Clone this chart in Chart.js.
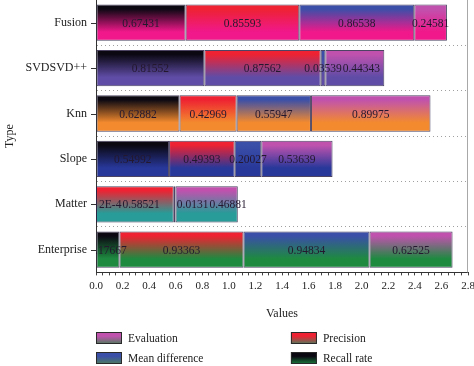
<!DOCTYPE html>
<html>
<head>
<meta charset="utf-8">
<script src="https://cdn.jsdelivr.net/npm/chart.js@4"></script>
<style>
html, body { margin: 0; padding: 0; background: #fff; }
#wrap { width: 474px; height: 366px; position: relative; }
</style>
</head>
<body>
<div id="wrap"><canvas id="chart"></canvas></div>
<script>
// data
const categories = ['Fusion', 'SVDSVD++', 'Knn', 'Slope', 'Matter', 'Enterprise'];
const recallRate = [0.67431, 0.81552, 0.62882, 0.54992, 0.0002, 0.17667];
const precision = [0.85593, 0.87562, 0.42969, 0.49393, 0.58521, 0.93363];
const meanDifference = [0.86538, 0.03539, 0.55947, 0.20027, 0.0131, 0.94834];
const evaluation = [0.24581, 0.44343, 0.89975, 0.53639, 0.46881, 0.62525];
const seriesNames = ['Recall rate', 'Precision', 'Mean difference', 'Evaluation'];
const xMin = 0, xMax = 2.8, xStep = 0.05, labelEvery = 4;

// colours: top of each bar comes from the series, bottom from the row
const seriesTop = ['#0b0812', '#ee2232', '#3b4fa8', '#c052ae'];
const rowBottom = ['#f0188a', '#5f4ca6', '#f38a2e', '#28389a', '#279c98', '#1e8a40'];
const swatchBottom = ['#1c7a3c', '#4f7c5c', '#4f7c5c', '#4f7c5c'];
const FONT = '"Liberation Serif", "Times New Roman", serif';
const BAR_RATIO = 0.8;

function barFill(c) {
  const ya = c.chart.scales.y;
  if (!ya || c.type !== 'data') return seriesTop[c.datasetIndex];
  const yc = ya.getPixelForValue(c.dataIndex);
  const h = ya.height / categories.length * BAR_RATIO;
  if (!Number.isFinite(yc) || !Number.isFinite(h) || h <= 0) return seriesTop[c.datasetIndex];
  const g = c.chart.ctx.createLinearGradient(0, yc - h / 2, 0, yc + h / 2);
  g.addColorStop(0, seriesTop[c.datasetIndex]);
  g.addColorStop(0.12, seriesTop[c.datasetIndex]);
  g.addColorStop(0.75, rowBottom[c.dataIndex]);
  g.addColorStop(1, rowBottom[c.dataIndex]);
  return g;
}

function fmt(v) {
  return v < 0.001 ? v.toExponential(0).toUpperCase() : String(v);
}

/*segment labels*/
const valueLabels = {
  id: 'valueLabels',
  afterDatasetsDraw(chart) {
    const ctx = chart.ctx, a = chart.chartArea;
    ctx.save();
    ctx.beginPath();
    ctx.rect(a.left, a.top, a.right - a.left, a.bottom - a.top);
    ctx.clip();
    ctx.font = '11.5px ' + FONT;
    ctx.fillStyle = '#24182f';
    ctx.textBaseline = 'middle';
    ctx.textAlign = 'left';
    categories.forEach((cat, i) => {
      let prevRight = -Infinity;
      chart.data.datasets.forEach((ds, d) => {
        const bar = chart.getDatasetMeta(d).data[i];
        const txt = fmt(ds.data[i]);
        const w = ctx.measureText(txt).width;
        const x0 = Math.min(bar.x, bar.base), x1 = Math.max(bar.x, bar.base);
        let left = (x1 - x0) < 3 ? x0 + 3 : (x0 + x1) / 2 - w / 2;
        if (left < prevRight + 1) left = prevRight + 1;
        ctx.fillText(txt, left, bar.y + 1);
        prevRight = left + w;
      });
    });
    ctx.restore();
  }
};

/*frame, y ticks, legend*/
const extras = {
  id: 'extras',
  afterDraw(chart) {
    const ctx = chart.ctx, a = chart.chartArea, ya = chart.scales.y;
    ctx.save();
    // right frame
    ctx.strokeStyle = '#a8a8a8';
    ctx.lineWidth = 1;
    ctx.beginPath();
    ctx.moveTo(a.right - 0.5, a.top);
    ctx.lineTo(a.right - 0.5, a.bottom);
    ctx.stroke();
    // y tick marks at category centres
    ctx.strokeStyle = '#333';
    categories.forEach((c, i) => {
      const y = Math.round(ya.getPixelForValue(i)) + 0.5;
      ctx.beginPath();
      ctx.moveTo(a.left - 5, y);
      ctx.lineTo(a.left, y);
      ctx.stroke();
    });
    // legend, two columns, reversed order
    const order = [3, 1, 2, 0];
    const colX = [a.left, a.left + (a.right - a.left) * 0.524];
    const rowY = [338, 358];
    ctx.font = '11.5px ' + FONT;
    ctx.textBaseline = 'middle';
    order.forEach((d, k) => {
      const x = colX[k % 2], y = rowY[Math.floor(k / 2)];
      const g = ctx.createLinearGradient(0, y - 6, 0, y + 6);
      g.addColorStop(0, seriesTop[d]);
      g.addColorStop(0.35, seriesTop[d]);
      g.addColorStop(1, swatchBottom[d]);
      ctx.fillStyle = g;
      ctx.fillRect(x, y - 6, 26, 12);
      ctx.strokeStyle = '#2a2a2a';
      ctx.strokeRect(x + 0.5, y - 5.5, 25, 11);
      ctx.fillStyle = '#222';
      ctx.fillText(seriesNames[d], x + 32, y + 1);
    });
    ctx.restore();
  }
};

const allSeries = [recallRate, precision, meanDifference, evaluation];

new Chart(document.getElementById('chart'), {
  type: 'bar',
  data: {
    labels: categories,
    datasets: allSeries.map((vals, d) => ({
      label: seriesNames[d],
      data: vals,
      backgroundColor: barFill,
      borderColor: 'rgba(45,35,70,0.85)',
      borderWidth: 1,
      borderSkipped: false,
      categoryPercentage: 1,
      barPercentage: BAR_RATIO
    }))
  },
  options: {
    indexAxis: 'y',
    responsive: true,
    maintainAspectRatio: false,
    animation: false,
    events: [],
    layout: { padding: { top: 0, left: 0, right: 6, bottom: 45 } },
    plugins: {
      legend: { display: false },
      tooltip: { enabled: false }
    },
    scales: {
      x: {
        stacked: true,
        min: xMin,
        max: xMax,
        border: { color: '#333' },
        grid: { drawOnChartArea: false, tickLength: 3, color: '#444' },
        ticks: {
          stepSize: xStep,
          autoSkip: false,
          maxRotation: 0,
          padding: 4,
          color: '#222',
          font: { family: FONT, size: 11 },
          callback: (v, i) => i % labelEvery === 0 ? Number(v).toFixed(1) : ''
        },
        title: {
          display: true,
          text: 'Values',
          color: '#222',
          font: { family: FONT, size: 12 },
          padding: { top: 10, bottom: 0 }
        },
        afterFit: (s) => { s.paddingLeft = 0; s.paddingRight = 0; }
      },
      y: {
        stacked: true,
        border: { color: '#333', dash: [1, 3] },
        grid: {
          offset: true,
          drawTicks: false,
          tickLength: 0,
          color: (c) => c.index === 0 ? 'rgba(0,0,0,0)' : '#a0a0a0',
          lineWidth: 1
        },
        ticks: {
          padding: 9,
          color: '#222',
          font: { family: FONT, size: 12 }
        },
        title: {
          display: true,
          text: 'Type',
          color: '#222',
          font: { family: FONT, size: 12 },
          padding: 3
        },
        afterFit: (s) => { s.width = 96; s.paddingTop = 0; s.paddingBottom = 0; }
      }
    }
  },
  plugins: [valueLabels, extras]
});
</script>
</body>
</html>
